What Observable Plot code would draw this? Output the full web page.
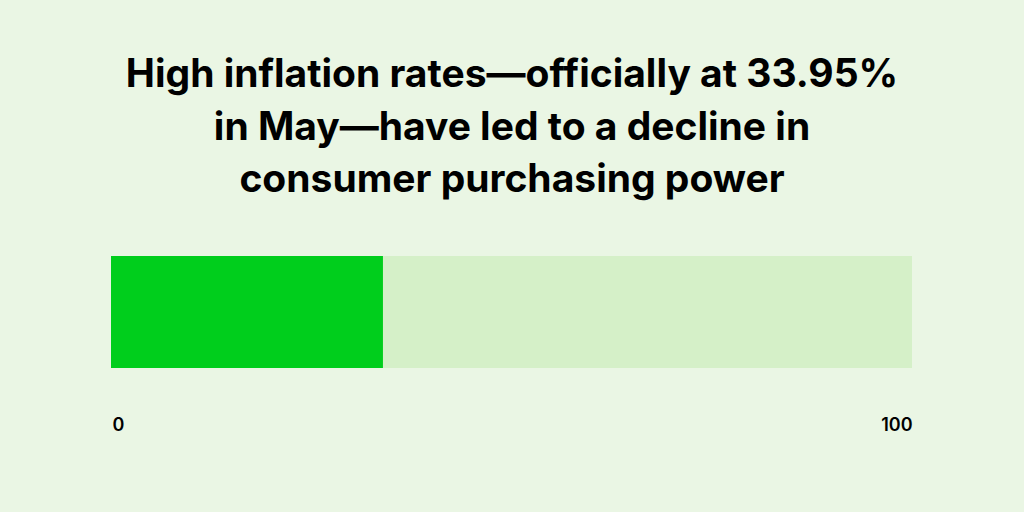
<!DOCTYPE html>
<html>
<head>
<meta charset="utf-8">
<script src="https://cdn.jsdelivr.net/npm/d3@7"></script>
<script src="https://cdn.jsdelivr.net/npm/@observablehq/plot@0.6"></script>
<style>
  html, body { margin: 0; padding: 0; background: #eaf6e4; width: 1024px; height: 512px; overflow: hidden; }
  #title { box-sizing: border-box; height: 230px; padding-top: 47px; text-align: center;
    font-family: "Inter", sans-serif; font-weight: 700; font-size: 39px; line-height: 52.5px; color: #000;
    letter-spacing: 0px; }
  #chart svg { display: block; }
</style>
</head>
<body>
<div id="title">High inflation rates—officially at 33.95%<br>in May—have led to a decline in<br>consumer purchasing power</div>
<div id="chart"></div>
<script>
const categories = ["Inflation rate (May)"];
const values = [33.95];
const trackMax = [100];
const tickValues = [0, 100];
const tickLabels = ["0", "100"];

const data = categories.map((c, i) => ({category: c, value: values[i], max: trackMax[i]}));

const chart = Plot.plot({
  width: 1024,
  height: 282,
  marginLeft: 111,
  marginRight: 112,
  marginTop: 26,
  marginBottom: 144,
  style: {background: "transparent", fontFamily: "Inter, sans-serif"},
  x: {domain: [0, 100], axis: null},
  marks: [
    Plot.barX(data, {x1: 0, x2: "max", fill: "#d5f0c8"}),
    Plot.barX(data, {x1: 0, x2: "value", fill: "#00ce1c"}),
    Plot.text([tickValues[0]], {x: d => d, text: () => tickLabels[0], frameAnchor: "bottom", textAnchor: "start", lineAnchor: "middle", dy: 57, dx: 1, fontSize: 18, fontWeight: 600, fill: "#000"}),
    Plot.text([tickValues[1]], {x: d => d, text: () => tickLabels[1], frameAnchor: "bottom", textAnchor: "end", lineAnchor: "middle", dy: 57, fontSize: 18, fontWeight: 600, fill: "#000"})
  ]
});
document.getElementById("chart").appendChild(chart);
</script>
</body>
</html>
